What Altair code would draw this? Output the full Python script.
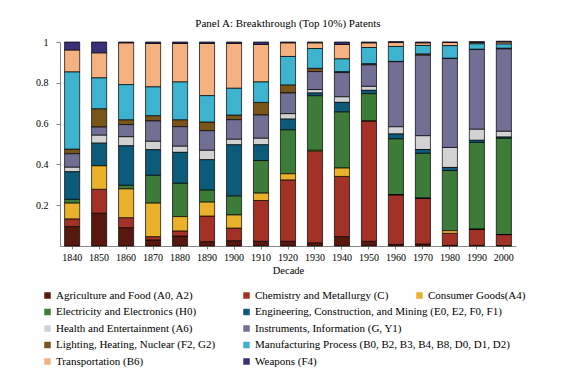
import altair as alt
import pandas as pd

decades = [1840, 1850, 1860, 1870, 1880, 1890, 1900, 1910, 1920, 1930,
           1940, 1950, 1960, 1970, 1980, 1990, 2000]

categories = [
    "Agriculture and Food (A0, A2)",
    "Chemistry and Metallurgy (C)",
    "Consumer Goods(A4)",
    "Electricity and Electronics (H0)",
    "Engineering, Construction, and Mining (E0, E2, F0, F1)",
    "Health and Entertainment (A6)",
    "Instruments, Information (G, Y1)",
    "Lighting, Heating, Nuclear (F2, G2)",
    "Manufacturing Process (B0, B2, B3, B4, B8, D0, D1, D2)",
    "Transportation (B6)",
    "Weapons (F4)",
]

colors = ["#58180f", "#a33125", "#e9b12c", "#3c7b38", "#0d5b7b", "#d2d2d2",
          "#726f95", "#7a5519", "#3eb3cf", "#f5b17f", "#3a3078"]

agri = [0.095, 0.161, 0.090, 0.030, 0.049, 0.021, 0.026, 0.023, 0.023, 0.016, 0.046, 0.023, 0.008, 0.010, 0.003, 0.003, 0.002]
chem = [0.038, 0.117, 0.049, 0.016, 0.025, 0.126, 0.062, 0.200, 0.301, 0.449, 0.295, 0.588, 0.243, 0.224, 0.059, 0.079, 0.054]
cons = [0.077, 0.115, 0.141, 0.164, 0.070, 0.068, 0.064, 0.036, 0.030, 0.004, 0.041, 0.003, 0.000, 0.000, 0.013, 0.000, 0.000]
elec = [0.019, 0.000, 0.018, 0.137, 0.164, 0.060, 0.094, 0.160, 0.216, 0.268, 0.276, 0.133, 0.275, 0.221, 0.295, 0.426, 0.473]
eng = [0.135, 0.111, 0.193, 0.125, 0.151, 0.148, 0.250, 0.077, 0.052, 0.013, 0.046, 0.016, 0.023, 0.018, 0.015, 0.010, 0.005]
health = [0.023, 0.040, 0.045, 0.042, 0.031, 0.047, 0.028, 0.033, 0.027, 0.017, 0.028, 0.020, 0.036, 0.068, 0.098, 0.055, 0.029]
instr = [0.065, 0.039, 0.059, 0.099, 0.095, 0.095, 0.095, 0.113, 0.101, 0.088, 0.118, 0.105, 0.318, 0.394, 0.436, 0.390, 0.403]
light = [0.023, 0.090, 0.024, 0.026, 0.034, 0.043, 0.023, 0.062, 0.040, 0.016, 0.005, 0.006, 0.002, 0.007, 0.002, 0.002, 0.004]
manuf = [0.378, 0.151, 0.172, 0.141, 0.185, 0.129, 0.131, 0.100, 0.139, 0.097, 0.062, 0.079, 0.073, 0.041, 0.061, 0.026, 0.020]
trans = [0.108, 0.123, 0.205, 0.213, 0.189, 0.256, 0.220, 0.184, 0.067, 0.028, 0.071, 0.023, 0.020, 0.013, 0.016, 0.007, 0.010]
weap = [0.039, 0.053, 0.004, 0.007, 0.007, 0.007, 0.007, 0.012, 0.004, 0.004, 0.012, 0.004, 0.004, 0.004, 0.002, 0.004, 0.004]

series = [agri, chem, cons, elec, eng, health, instr, light, manuf, trans, weap]

# legend column grouping (as laid out in the reference)
legend_groups = [
    [0, 3, 5, 7, 9],
    [1, 4, 6, 8, 10],
    [2],
]

group_of = {}
for g, idxs in enumerate(legend_groups):
    for i in idxs:
        group_of[i] = g

rows = []
for ci, (cat, vals) in enumerate(zip(categories, series)):
    for d, v in zip(decades, vals):
        rows.append({"decade": d, "category": cat, "share": v,
                     "order": ci, "group": group_of[ci]})
df = pd.DataFrame(rows)

FONT = "Liberation Serif"

base = alt.Chart(df).transform_stack(
    stack="share", groupby=["decade"], as_=["y0", "y1"],
    sort=[alt.SortField("order", order="ascending")]
)

legend_x = [-18, 181, 354]

layers = []
for g, idxs in enumerate(legend_groups):
    dom = [categories[i] for i in idxs]
    rng = [colors[i] for i in idxs]
    layer = base.transform_filter(
        alt.datum.group == g
    ).mark_bar(stroke="black", strokeWidth=0.7).encode(
        x=alt.X("decade:O", title="Decade",
                scale=alt.Scale(paddingInner=0.44, paddingOuter=0.17),
                axis=alt.Axis(labelAngle=0, labelFont=FONT, labelFontSize=10,
                              titleFont=FONT, titleFontSize=10.5,
                              titleFontWeight="normal", titleColor="black",
                              labelColor="black", domainColor="#888888",
                              tickColor="#888888", tickSize=3, labelPadding=3,
                              titlePadding=3)),
        y=alt.Y("y0:Q", title=None,
                scale=alt.Scale(domain=[0, 1], nice=False),
                axis=alt.Axis(values=[0.2, 0.4, 0.6, 0.8, 1], format="~g",
                              labelFont=FONT, labelFontSize=10,
                              labelColor="black", domainColor="#888888",
                              tickColor="#888888", tickSize=4, labelPadding=8,
                              grid=False)),
        y2="y1:Q",
        color=alt.Color("category:N",
                        scale=alt.Scale(domain=dom, range=rng),
                        sort=dom,
                        legend=alt.Legend(orient="none", legendX=legend_x[g],
                                          legendY=248, title=None,
                                          direction="vertical",
                                          symbolType="square", symbolSize=42,
                                          symbolStrokeWidth=0,
                                          labelFont=FONT, labelFontSize=11,
                                          labelColor="black",
                                          labelLimit=400,
                                          rowPadding=4.5, labelOffset=3,
                                          padding=0)),
    )
    layers.append(layer)

chart = alt.layer(*layers).resolve_scale(color="independent").properties(
    width=456,
    height=204,
    padding={"left": 27, "top": 10, "right": 5, "bottom": 5},
    title=alt.TitleParams("Panel A: Breakthrough (Top 10%) Patents",
                          font=FONT, fontSize=11, fontWeight="normal",
                          color="black", offset=8),
).configure_view(stroke=None)

chart.save("out.html", embed_options={"renderer": "svg", "actions": False})
